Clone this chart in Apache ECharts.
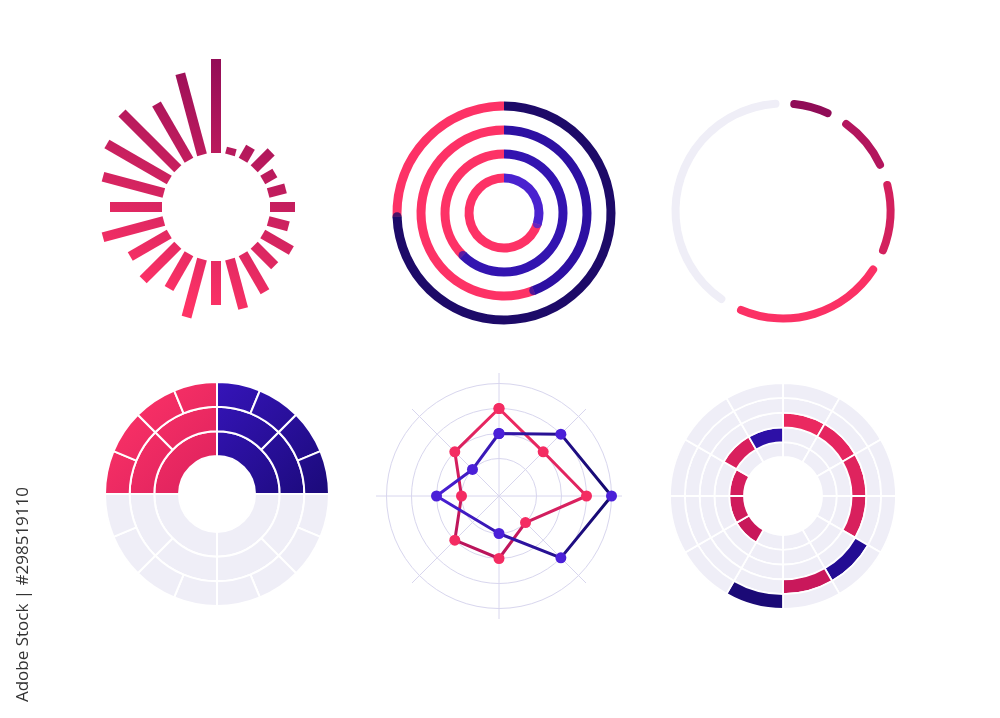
<!DOCTYPE html>
<html><head><meta charset="utf-8">
<script src="https://cdn.jsdelivr.net/npm/echarts@6/dist/echarts.min.js"></script>
<style>html,body{margin:0;padding:0;background:#fff}#c{width:1000px;height:718px}</style>
</head><body><div id="c"></div>
<script>
// ---------- DATA ----------
// Panel 1: radial bars (angle = degrees clockwise from 12 o'clock, value = outer radius)
const burstAngles = [0,15,30,45,60,75,90,105,120,135,150,165,180,195,210,225,240,255,270,285,300,315,330,345];
const burstRadii  = [148,61,69,78,68,72,79,75,87,83,98,105,98,114,94,103,99,117,106,117,126,133,119,138];
// Panel 2: concentric rings (inner -> outer), blue arc end in degrees clockwise from top
const ringNames   = ['R1','R2','R3','R4'];
const ringBlueEnd = [108,224,159,268];
// Panel 3: arc segments (degrees clockwise from top, cap centres)
const arcStart = [6,36,76,123,215];
const arcEnd   = [24.5,64.5,111.5,203,356];
// Panel 4: sunburst quadrants clockwise from top
const quadGroups = ['blue','gray','gray','pink'];
// Panel 5: radar (angle clockwise from top, radial value)
const pinkAngles = [0,45,90,135,180,225,270,315,360];
const pinkValues = [7,5,7,3,5,5,3,5,7];
const blueAngles = [0,45,90,135,180,270,315,360];
const blueValues = [5,7,9,7,3,5,3,5];
// Panel 6: ring grid, 5 rings x 12 sectors, highlighted cells
const gridRings = ['g0','g1','g2','g3','g4'];
const gridSectorCount = 12;
const litRing   = [2,2,2,2,3,3,4,0,0,0,1,1];
const litSector = [0,1,2,3,4,5,6,7,8,9,10,11];

// ---------- STYLE ----------
const PINK = '#fd3266';
const GRAY = '#efeef7';
const GRID = '#d8d6ee';
const ringBlue = ['#4a22cf','#3314b0','#2d10a2','#1d0a68'];
const arcColors = ['#900c57','#b3155d','#d3205d','#fb3165', GRAY];
const litColors = ['#ea2960','#e5255f','#df235e','#d8205d','#230c93','#c9185b','#1b0a76','#c8185a','#cf1b5b','#d41d5c','#d91f5d','#2d10a6'];
function lin(x,y,x2,y2,c0,c1){return {type:'linear',x:x,y:y,x2:x2,y2:y2,global:true,colorStops:[{offset:0,color:c0},{offset:1,color:c1}]};}
const burstFill = lin(262,60,170,300,'#8c0a56','#ff3366');
const burstBase = 54;

const chart = echarts.init(document.getElementById('c'));
const hiddenAngle = (i)=>({polarIndex:i,type:'value',min:0,max:360,startAngle:90,show:false});

const series = [];
// Panel 1
series.push({
  type:'custom', coordinateSystem:'polar', polarIndex:0,
  data: burstAngles.map((a,i)=>[burstRadii[i], a]),
  renderItem: function(params, api){
    const a = api.value(1), r = api.value(0);
    const p0 = api.coord([burstBase, a]);
    const p1 = api.coord([r, a]);
    let dx = p1[0]-p0[0], dy = p1[1]-p0[1];
    const L = Math.hypot(dx,dy); dx/=L; dy/=L;
    const h = 5, nx = -dy*h, ny = dx*h;
    return {type:'polygon', shape:{points:[[p0[0]+nx,p0[1]+ny],[p1[0]+nx,p1[1]+ny],[p1[0]-nx,p1[1]-ny],[p0[0]-nx,p0[1]-ny]]}, style:{fill:burstFill}};
  }
});
// Panel 2
series.push({type:'bar', coordinateSystem:'polar', polarIndex:1, stack:'rings', barWidth:9, silent:true,
  data: ringBlueEnd.map((v,i)=>({value:v, itemStyle:{color:ringBlue[i]}}))});
series.push({type:'bar', coordinateSystem:'polar', polarIndex:1, stack:'rings', barWidth:9, silent:true,
  itemStyle:{color:PINK}, data: ringBlueEnd.map(v=>360-v)});
series.push({type:'scatter', coordinateSystem:'polar', polarIndex:1, symbolSize:9, z:5, silent:true,
  data: ringBlueEnd.map((v,i)=>({value:[i,v], itemStyle:{color:ringBlue[i]}}))});
// Panel 3
let cursor = 0;
arcStart.forEach((s,i)=>{
  series.push({type:'bar', coordinateSystem:'polar', polarIndex:2, stack:'arc', barWidth:8, silent:true,
    itemStyle:{color:'rgba(0,0,0,0)'}, data:[s-cursor]});
  series.push({type:'bar', coordinateSystem:'polar', polarIndex:2, stack:'arc', barWidth:8, roundCap:true, silent:true,
    itemStyle:{color:arcColors[i]}, data:[arcEnd[i]-s]});
  cursor = arcEnd[i];
});
// Panel 4
const quadFill = {
  pink: lin(110,385,217,494,'#ff3468','#dc215d'),
  blue: lin(217,385,328,494,'#3514b8','#1b0a7a'),
  gray: GRAY
};
function quadNode(g){
  const st = {color:quadFill[g]};
  return {value:4, itemStyle:st, children:[0,1].map(()=>({value:2, itemStyle:st,
    children:[0,1].map(()=>({value:1, itemStyle:st}))}))};
}
series.push({type:'sunburst', center:[217,494], radius:[38,112], sort:null, startAngle:90,
  nodeClick:false, silent:true, label:{show:false}, emphasis:{disabled:true},
  itemStyle:{borderColor:'#fff', borderWidth:2},
  data: quadGroups.map(quadNode)});
// Panel 5
series.push({type:'line', coordinateSystem:'polar', polarIndex:3, symbol:'circle', symbolSize:11, z:3, silent:true,
  lineStyle:{width:3, color:lin(540,410,460,570,'#f42c62','#b0105a')},
  itemStyle:{color:lin(540,410,460,570,'#f42c62','#b0105a')},
  data: pinkAngles.map((a,i)=>[pinkValues[i], a])});
series.push({type:'line', coordinateSystem:'polar', polarIndex:3, symbol:'circle', symbolSize:11, z:4, silent:true,
  lineStyle:{width:3, color:lin(430,0,615,0,'#4b20d8','#12086a')},
  itemStyle:{color:lin(430,0,615,0,'#4b20d8','#12086a')},
  data: blueAngles.map((a,i)=>[blueValues[i], a])});
// Panel 6
for (let k=0;k<gridSectorCount;k++){
  series.push({type:'bar', coordinateSystem:'polar', polarIndex:4, stack:'grid', barCategoryGap:'0%', silent:true,
    itemStyle:{borderColor:'#fff', borderWidth:1.8},
    data: gridRings.map((_,ri)=>{
      let c = GRAY;
      for (let j=0;j<litRing.length;j++) if (litRing[j]===ri && litSector[j]===k) c = litColors[j];
      return {value:360/gridSectorCount, itemStyle:{color:c}};
    })});
}

const radarSplitColors = [];
for (let i=0;i<11;i++) radarSplitColors.push((i===3||i===5||i===7||i===9)?GRID:'rgba(0,0,0,0)');

chart.setOption({
  backgroundColor:'#fff',
  animation:false,
  polar:[
    {center:[216,207], radius:[0,150]},
    {center:[504,213], radius:[23,119]},
    {center:[783,211], radius:[99.5,115.5]},
    {center:[499,496], radius:[0,123]},
    {center:[783,496], radius:[39,113]}
  ],
  angleAxis:[
    hiddenAngle(0), hiddenAngle(1), hiddenAngle(2),
    {polarIndex:3,type:'value',min:0,max:360,interval:45,startAngle:90,
      axisLine:{show:false},axisTick:{show:false},axisLabel:{show:false},
      splitLine:{show:true,lineStyle:{color:GRID,width:1}}},
    hiddenAngle(4)
  ],
  radiusAxis:[
    {polarIndex:0,type:'value',min:0,max:150,show:false},
    {polarIndex:1,type:'category',data:ringNames,show:false},
    {polarIndex:2,type:'category',data:['arc'],show:false},
    {polarIndex:3,type:'value',min:0,max:9.84,interval:1,
      axisLine:{show:false},axisTick:{show:false},axisLabel:{show:false},
      splitLine:{show:true,lineStyle:{color:radarSplitColors,width:1}}},
    {polarIndex:4,type:'category',data:gridRings,show:false}
  ],
  graphic:[{type:'text', x:23, y:487, rotation:Math.PI/2,
    style:{text:'Adobe Stock | #298519110', fill:'#333', font:'17px "Open Sans"', align:'right', verticalAlign:'middle'}}],
  series: series
});
</script></body></html>
